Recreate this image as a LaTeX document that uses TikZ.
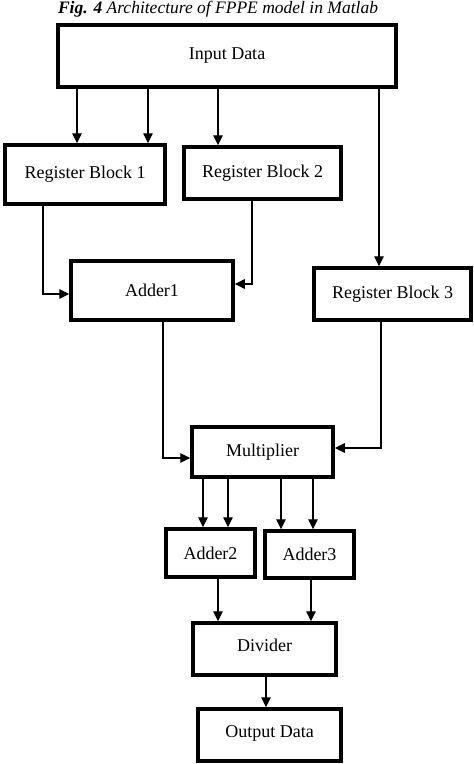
\documentclass[tikz,border=0pt]{standalone}
\usepackage{fontspec}
\setmainfont{Liberation Serif}
\usetikzlibrary{arrows.meta}
\begin{document}
\begin{tikzpicture}[x=1pt,y=-1pt,
  blk/.style={draw, line width=3.5pt, inner sep=0pt, font=\fontsize{18}{20}\selectfont},
  arr/.style={line width=1.2pt, -{Triangle[length=10pt,width=9.5pt]}}]
\useasboundingbox (0,0) rectangle (474,764);
\node[font=\fontsize{17.5}{20}\selectfont\itshape, anchor=base] (title) at (218,13.5) {\textbf{Fig. 4} Architecture of FPPE model in Matlab};
\node[blk, minimum width=338, minimum height=62] (inp) at (227,56) {Input Data};
\node[blk, minimum width=160, minimum height=59] (rb1) at (85,174.5) {Register Block 1};
\node[blk, minimum width=157, minimum height=52] (rb2) at (262.5,173) {Register Block 2};
\node[blk, minimum width=162, minimum height=59] (add1) at (152,290.5) {Adder1};
\node[blk, minimum width=157, minimum height=52] (rb3) at (392.5,294) {Register Block 3};
\node[blk, minimum width=141, minimum height=50] (mult) at (262.5,452) {Multiplier};
\node[blk, minimum width=89, minimum height=48] (add2) at (210.5,553) {Adder2};
\node[blk, minimum width=89, minimum height=47] (add3) at (309.5,554.5) {Adder3};
\node[blk, minimum width=143, minimum height=52] (div) at (264.5,649) {\raisebox{7pt}{Divider}};
\node[blk, minimum width=143, minimum height=52] (out) at (269.5,735) {\raisebox{7pt}{Output Data}};
% connectors
\draw[arr] (inp.south -| 77,0) -- (rb1.north -| 77,0);
\draw[arr] (inp.south -| 148,0) -- (rb1.north -| 148,0);
\draw[arr] (inp.south -| 218,0) -- (rb2.north -| 218,0);
\draw[arr] (inp.south -| 379,0) -- (rb3.north -| 379,0);
\draw[arr] (rb1.south -| 43,0) |- ([yshift=-3.5pt]add1.west);
\draw[arr] (rb2.south -| 252,0) |- ([yshift=6.5pt]add1.east);
\draw[arr] (add1.south -| 163,0) |- ([yshift=-6pt]mult.west);
\draw[arr] (rb3.south -| 381,0) |- ([yshift=4pt]mult.east);
\draw[arr] (mult.south -| 203,0) -- (add2.north -| 203,0);
\draw[arr] (mult.south -| 228,0) -- (add2.north -| 228,0);
\draw[arr] (mult.south -| 281,0) -- (add3.north -| 281,0);
\draw[arr] (mult.south -| 313,0) -- (add3.north -| 313,0);
\draw[arr] (add2.south -| 218,0) -- (div.north -| 218,0);
\draw[arr] (add3.south -| 311,0) -- (div.north -| 311,0);
\draw[arr] (div.south -| 266,0) -- (out.north -| 266,0);
\end{tikzpicture}
\end{document}
